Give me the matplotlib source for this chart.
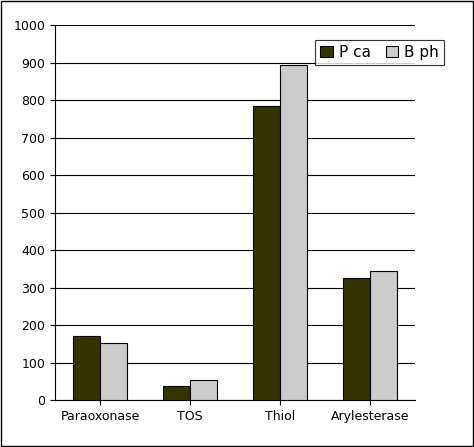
import matplotlib
matplotlib.use("Agg")
import matplotlib.pyplot as plt
import numpy as np
from matplotlib.patches import Rectangle

categories = ["Paraoxonase", "TOS", "Thiol", "Arylesterase"]
pca = [171, 37, 784, 325]
bph = [152, 53, 893, 344]

fig = plt.figure(figsize=(4.74, 4.47), dpi=100)
ax = fig.add_axes([0.116, 0.105, 0.76, 0.839])
x = np.arange(len(categories))
w = 0.3
ax.bar(x - w/2, pca, w, color="#333300", edgecolor="black", linewidth=0.8, label="P ca", zorder=3)
ax.bar(x + w/2, bph, w, color="#cccccc", edgecolor="black", linewidth=0.8, label="B ph", zorder=3)
ax.set_ylim(0, 1000)
ax.set_xlim(-0.5, 3.5)
ax.set_yticks(range(0, 1001, 100))
ax.yaxis.grid(True, color="black", linewidth=0.8, zorder=0)
ax.set_xticks(x)
ax.set_xticklabels(categories)
ax.tick_params(labelsize=9, direction="out")
for s in ["top", "right"]:
    ax.spines[s].set_visible(False)
leg = fig.legend(*ax.get_legend_handles_labels(), loc="upper right",
                 bbox_to_anchor=(452/474, 1 - 32/447), ncol=2, fontsize=11,
                 frameon=True, fancybox=False, edgecolor="black", handlelength=0.8,
                 columnspacing=1.0, handletextpad=0.4, borderpad=0.35)
leg.get_frame().set_linewidth(0.8)
fig.patches.append(Rectangle((0.002, 0.002), 0.996, 0.996, transform=fig.transFigure,
                             fill=False, edgecolor="black", linewidth=1))
fig.savefig("out.png", dpi=100)
